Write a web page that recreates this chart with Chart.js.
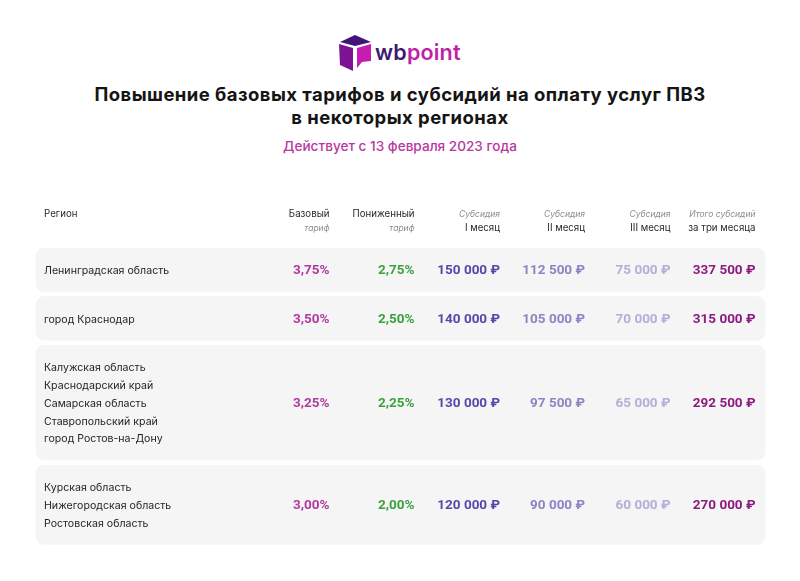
<!DOCTYPE html>
<html lang="ru">
<head>
  <meta charset="UTF-8">
  <title>Повышение базовых тарифов и субсидий</title>
  <script src="https://cdn.jsdelivr.net/npm/chart.js"></script>
  <style>
    html, body { margin: 0; padding: 0; background: #fff; }
    body { width: 800px; height: 581px; position: relative; overflow: hidden; font-family: Inter, sans-serif; }

    #logo { position: absolute; left: 339px; top: 35px; }
    #wordmark {
      position: absolute; left: 375px; top: 38px;
      font-size: 21.5px; font-weight: 600; line-height: 28px; color: #c21fa8; letter-spacing: 0.2px;
    }
    #wordmark span { color: #3d1a6e; }

    h2 {
      position: absolute; left: 0; top: 83px; width: 800px; margin: 0;
      text-align: center; font-size: 18.5px; line-height: 23px; font-weight: 700; color: #141414; letter-spacing: 0.45px;
    }
    #subtitle {
      position: absolute; left: 0; top: 137px; width: 800px;
      text-align: center; font-size: 13.6px; line-height: 18px; font-weight: 500; color: #b9389f;
    }
    .chart-container { position: absolute; left: 0; top: 190px; width: 800px; height: 391px; }
  </style>
</head>
<body>

  <svg id="logo" width="34" height="38" viewBox="339 35 34 38">
    <polygon points="340,42 355,35 371,42 355,46" fill="#43157a"/>
    <polygon points="339,44 353,48 353,71 340,65" fill="#7d1295"/>
    <polygon points="357,48 371,44 371,61 362,62 357,68" fill="#c71cb0"/>
  </svg>
  <div id="wordmark"><span>wb</span>point</div>

  <h2>Повышение базовых тарифов и субсидий на оплату услуг ПВЗ<br>в некоторых регионах</h2>
  <div id="subtitle">Действует с 13 февраля 2023 года</div>

  <div class="chart-container">
    <canvas id="tariffChart" width="800" height="391"></canvas>
  </div>

  <script>
    const regions = [
      ["Ленинградская область"],
      ["город Краснодар"],
      ["Калужская область", "Краснодарский край", "Самарская область", "Ставропольский край", "город Ростов-на-Дону"],
      ["Курская область", "Нижегородская область", "Ростовская область"]
    ];
    const baseTariff = [3.75, 3.50, 3.25, 3.00];
    const reducedTariff = [2.75, 2.50, 2.25, 2.00];
    const subsidyMonth1 = [150000, 140000, 130000, 120000];
    const subsidyMonth2 = [112500, 105000, 97500, 90000];
    const subsidyMonth3 = [75000, 70000, 65000, 60000];
    const subsidyTotal = [337500, 315000, 292500, 270000];

    // column right edges and row layout, in page pixels
    const columnX = [329.5, 414.5, 500, 585, 670.5, 755.5];
    const lineHeight = 17.8;
    const rowPadding = 25.6;
    const rowGap = 5.3;
    const firstRowTop = 248;
    const textNudge = 1; // Cyrillic sits a little high on the middle baseline

    const rowBounds = [];
    let rowTop = firstRowTop;
    regions.forEach(lines => {
      const rowBottom = rowTop + rowPadding + lines.length * lineHeight;
      rowBounds.push([rowTop, rowBottom]);
      rowTop = rowBottom + rowGap;
    });
    const rowCenter = rowBounds.map(b => (b[0] + b[1]) / 2);

    const percent = v => v.toFixed(2).replace('.', ',') + '%';
    const rubles = v => String(v).replace(/\B(?=(\d{3})+$)/g, ' ') + ' ₽';

    const column = (values, i, color, format) => ({
      type: 'scatter',
      data: values.map((v, j) => ({ x: columnX[i], y: rowCenter[j] + textNudge })),
      values, color, format,
      pointRadius: 0
    });

    const headers = [
      { x: 44, align: 'left', lines: [['Регион', 'n']] },
      { x: columnX[0], lines: [['Базовый', 'n'], ['тариф', 'i']] },
      { x: columnX[1], lines: [['Пониженный', 'n'], ['тариф', 'i']] },
      { x: columnX[2], lines: [['Субсидия', 'i'], ['I месяц', 'n']] },
      { x: columnX[3], lines: [['Субсидия', 'i'], ['II месяц', 'n']] },
      { x: columnX[4], lines: [['Субсидия', 'i'], ['III месяц', 'n']] },
      { x: columnX[5], lines: [['Итого субсидий', 'i'], ['за три месяца', 'n']] }
    ];

    const tableText = {
      id: 'tableText',
      afterDatasetsDraw(chart) {
        const { ctx, scales } = chart;
        ctx.save();
        ctx.textBaseline = 'middle';

        // header
        headers.forEach(h => {
          ctx.textAlign = h.align || 'right';
          h.lines.forEach((line, i) => {
            const y = scales.y.getPixelForValue(214.5 + i * 14);
            ctx.font = line[1] === 'i' ? 'italic 400 8.5px Inter' : '400 9.7px Inter';
            ctx.fillStyle = line[1] === 'i' ? '#8b8b8f' : '#2a2a2c';
            ctx.fillText(line[0], scales.x.getPixelForValue(h.x), y);
          });
        });

        // region names
        ctx.textAlign = 'left';
        ctx.font = '400 10.6px Inter';
        ctx.fillStyle = '#1f1f21';
        regions.forEach((lines, j) => {
          lines.forEach((name, i) => {
            const value = rowCenter[j] + textNudge + (i - (lines.length - 1) / 2) * lineHeight;
            ctx.fillText(name, scales.x.getPixelForValue(44), scales.y.getPixelForValue(value));
          });
        });

        // values, placed on the points of each column
        ctx.textAlign = 'right';
        ctx.font = '700 13.5px Roboto';
        chart.data.datasets.forEach((ds, d) => {
          if (!ds.format) return;
          ctx.fillStyle = ds.color;
          chart.getDatasetMeta(d).data.forEach((pt, j) => {
            ctx.fillText(ds.format(ds.values[j]), pt.x, pt.y);
          });
        });
        ctx.restore();
      }
    };

    new Chart(document.getElementById('tariffChart'), {
      type: 'bar',
      data: {
        datasets: [
          {
            data: rowBounds.map(b => ({ x: 400.5, y: b })),
            backgroundColor: '#f5f5f6',
            barThickness: 729,
            borderRadius: 8,
            borderSkipped: false
          },
          column(baseTariff, 0, '#b23a9f', percent),
          column(reducedTariff, 1, '#3ba23c', percent),
          column(subsidyMonth1, 2, '#5a46a8', rubles),
          column(subsidyMonth2, 3, '#8f83c4', rubles),
          column(subsidyMonth3, 4, '#b5aed8', rubles),
          column(subsidyTotal, 5, '#8c1a80', rubles)
        ]
      },
      options: {
        responsive: false,
        animation: false,
        layout: { padding: 0 },
        plugins: { legend: { display: false }, tooltip: { enabled: false } },
        scales: {
          x: { type: 'linear', min: 0, max: 800, offset: false, display: false },
          y: { type: 'linear', min: 190, max: 581, reverse: true, display: false }
        }
      },
      plugins: [tableText]
    });
  </script>

</body>
</html>
